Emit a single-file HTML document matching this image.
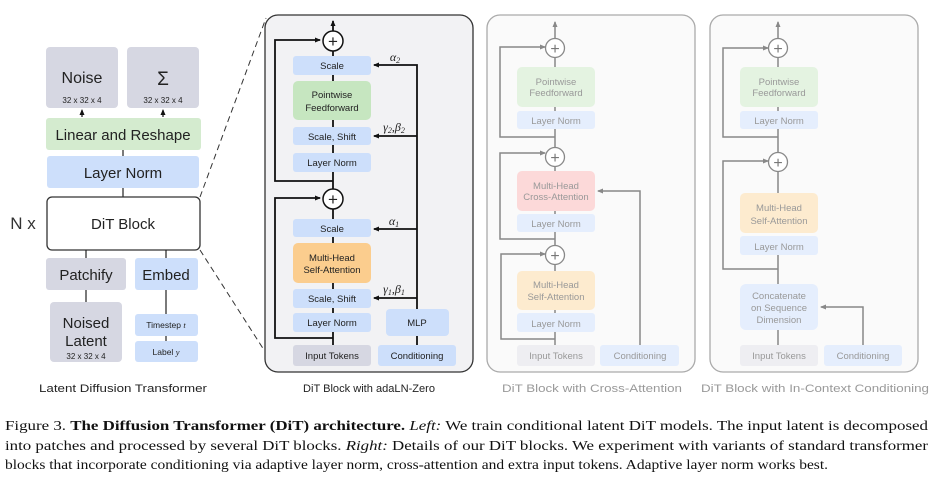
<!DOCTYPE html>
<html><head><meta charset="utf-8"><style>
html,body{margin:0;padding:0;background:#fff;}
svg{display:block;}
text{font-family:"Liberation Sans",sans-serif;}
.s, .s text, text.s, tspan.s{font-family:"Liberation Serif",serif;}
</style></head><body>
<svg width="943" height="485" viewBox="0 0 943 485" xmlns="http://www.w3.org/2000/svg">
<defs>
<marker id="ab" markerWidth="6" markerHeight="6" refX="5" refY="3" orient="auto" markerUnits="userSpaceOnUse"><path d="M0,0.5 L6,3 L0,5.5 z" fill="#111"/></marker>
<marker id="ag" markerWidth="6" markerHeight="6" refX="5" refY="3" orient="auto" markerUnits="userSpaceOnUse"><path d="M0,0.5 L6,3 L0,5.5 z" fill="#888"/></marker>
</defs>
<rect width="943" height="485" fill="#fff"/>

<!-- LEFT -->
<g text-anchor="middle">
<rect x="46" y="47" width="72" height="61" rx="4" fill="#d6d7e2"/>
<text x="82" y="83" font-size="16" fill="#222">Noise</text>
<text x="82" y="103" font-size="8" fill="#222">32 x 32 x 4</text>
<rect x="127" y="47" width="72" height="61" rx="4" fill="#d6d7e2"/>
<text x="163" y="85" font-size="19" fill="#222">Σ</text>
<text x="163" y="103" font-size="8" fill="#222">32 x 32 x 4</text>
<line x1="82" y1="117" x2="82" y2="110" stroke="#111" stroke-width="1.2" marker-end="url(#ab)"/>
<line x1="163" y1="117" x2="163" y2="110" stroke="#111" stroke-width="1.2" marker-end="url(#ab)"/>
<rect x="46" y="118" width="155" height="32" rx="3" fill="#d4ebcf"/>
<text x="123" y="140" font-size="15" fill="#222">Linear and Reshape</text>
<line x1="123" y1="150" x2="123" y2="156" stroke="#222" stroke-width="1.2"/>
<rect x="47" y="156" width="152" height="32" rx="3" fill="#cddffb"/>
<text x="123" y="178" font-size="15" fill="#222">Layer Norm</text>
<line x1="123" y1="188" x2="123" y2="197" stroke="#222" stroke-width="1.2"/>
<rect x="47" y="197" width="153" height="53" rx="5" fill="#fff" stroke="#333" stroke-width="1.3"/>
<text x="123" y="229" font-size="15" fill="#222">DiT Block</text>
<text x="23" y="229" font-size="17" fill="#333">N x</text>
<line x1="86" y1="250" x2="86" y2="258" stroke="#222" stroke-width="1.2"/>
<line x1="166" y1="250" x2="166" y2="258" stroke="#222" stroke-width="1.2"/>
<rect x="46" y="258" width="80" height="32" rx="3" fill="#d6d7e2"/>
<text x="86" y="280" font-size="15" fill="#222">Patchify</text>
<rect x="135" y="258" width="63" height="32" rx="3" fill="#cddffb"/>
<text x="166" y="280" font-size="15" fill="#222">Embed</text>
<line x1="86" y1="290" x2="86" y2="302" stroke="#222" stroke-width="1.2"/>
<line x1="166" y1="290" x2="166" y2="341" stroke="#222" stroke-width="1.2"/>
<rect x="50" y="302" width="72" height="60" rx="4" fill="#d6d7e2"/>
<text x="86" y="328" font-size="15" fill="#222">Noised</text>
<text x="86" y="346" font-size="15" fill="#222">Latent</text>
<text x="86" y="359" font-size="8" fill="#222">32 x 32 x 4</text>
<rect x="135" y="314" width="63" height="22" rx="3" fill="#cddffb"/>
<text x="166" y="328" font-size="8.5" fill="#222">Timestep <tspan class="s" font-style="italic">t</tspan></text>
<rect x="135" y="341" width="63" height="21" rx="3" fill="#cddffb"/>
<text x="166" y="355" font-size="8.5" fill="#222">Label <tspan class="s" font-style="italic">y</tspan></text>
<text x="123" y="392" font-size="11" fill="#222" textLength="168" lengthAdjust="spacingAndGlyphs">Latent Diffusion Transformer</text>
</g>
<line x1="200" y1="197" x2="266" y2="18" stroke="#333" stroke-width="1" stroke-dasharray="6,4"/>
<line x1="200" y1="250" x2="264" y2="350" stroke="#333" stroke-width="1" stroke-dasharray="6,4"/>

<!-- adaLN -->
<rect x="265" y="15" width="208" height="357" rx="13" fill="#f2f2f4" stroke="#333" stroke-width="1.3"/>
<g stroke="#111" stroke-width="1.8" fill="none">
<line x1="333" y1="31" x2="333" y2="21" marker-end="url(#ab)"/>
<path d="M333,181 L275,181 L275,40 L320,40" marker-end="url(#ab)"/>
<line x1="333" y1="51" x2="333" y2="56"/>
<line x1="333" y1="75" x2="333" y2="81"/>
<line x1="333" y1="120" x2="333" y2="127"/>
<line x1="333" y1="145" x2="333" y2="153"/>
<line x1="333" y1="172" x2="333" y2="189"/>
<path d="M333,338 L275,338 L275,198 L320,198" marker-end="url(#ab)"/>
<line x1="333" y1="209" x2="333" y2="219"/>
<line x1="333" y1="237" x2="333" y2="243"/>
<line x1="333" y1="283" x2="333" y2="289"/>
<line x1="333" y1="308" x2="333" y2="313"/>
<line x1="333" y1="332" x2="333" y2="345"/>
<line x1="417" y1="345" x2="417" y2="336"/>
<path d="M417,309 L417,65 L374,65" marker-end="url(#ab)"/>
<line x1="417" y1="136" x2="374" y2="136" marker-end="url(#ab)"/>
<line x1="417" y1="229" x2="374" y2="229" marker-end="url(#ab)"/>
<line x1="417" y1="298" x2="374" y2="298" marker-end="url(#ab)"/>
</g>
<g text-anchor="middle" font-size="9.5" fill="#222">
<circle cx="333" cy="41" r="10" fill="#fff" stroke="#111" stroke-width="1.5"/>
<text x="333" y="47" font-size="17">+</text>
<circle cx="333" cy="199" r="10" fill="#fff" stroke="#111" stroke-width="1.5"/>
<text x="333" y="205" font-size="17">+</text>
<rect x="293" y="56" width="78" height="19" rx="3" fill="#cddffb"/><text x="332" y="69">Scale</text>
<rect x="293" y="81" width="78" height="39" rx="5" fill="#c6e6c0"/><text x="332" y="98">Pointwise</text><text x="332" y="111">Feedforward</text>
<rect x="293" y="127" width="78" height="18" rx="3" fill="#cddffb"/><text x="332" y="140">Scale, Shift</text>
<rect x="293" y="153" width="78" height="19" rx="3" fill="#cddffb"/><text x="332" y="166">Layer Norm</text>
<rect x="293" y="219" width="78" height="18" rx="3" fill="#cddffb"/><text x="332" y="232">Scale</text>
<rect x="293" y="243" width="78" height="40" rx="5" fill="#fbcd8e"/><text x="332" y="261">Multi-Head</text><text x="332" y="273">Self-Attention</text>
<rect x="293" y="289" width="78" height="19" rx="3" fill="#cddffb"/><text x="332" y="302">Scale, Shift</text>
<rect x="293" y="313" width="78" height="19" rx="3" fill="#cddffb"/><text x="332" y="326">Layer Norm</text>
<rect x="386" y="309" width="63" height="27" rx="4" fill="#cddffb"/><text x="417" y="326">MLP</text>
<rect x="293" y="345" width="78" height="21" rx="3" fill="#d6d7e2"/><text x="332" y="359">Input Tokens</text>
<rect x="378" y="345" width="78" height="21" rx="3" fill="#cddffb"/><text x="417" y="359">Conditioning</text>
<text class="s" font-style="italic" font-size="12" x="395" y="61">α<tspan font-size="8" dy="2">2</tspan></text>
<text class="s" font-style="italic" font-size="12" x="394" y="131">γ<tspan font-size="8" dy="2">2</tspan><tspan dy="-2">,β</tspan><tspan font-size="8" dy="2">2</tspan></text>
<text class="s" font-style="italic" font-size="12" x="394" y="225">α<tspan font-size="8" dy="2">1</tspan></text>
<text class="s" font-style="italic" font-size="12" x="394" y="293">γ<tspan font-size="8" dy="2">1</tspan><tspan dy="-2">,β</tspan><tspan font-size="8" dy="2">1</tspan></text>
<text x="369" y="392" font-size="11" textLength="132" lengthAdjust="spacingAndGlyphs">DiT Block with adaLN-Zero</text>
</g>

<!-- Cross-attention -->
<rect x="487" y="15" width="208" height="357" rx="13" fill="#fafafa" stroke="#aaa" stroke-width="1.3"/>
<g stroke="#888" stroke-width="1.5" fill="none">
<line x1="555" y1="38" x2="555" y2="22" marker-end="url(#ag)"/>
<path d="M555,137 L500,137 L500,47 L545,47" marker-end="url(#ag)"/>
<path d="M555,239 L500,239 L500,153 L545,153" marker-end="url(#ag)"/>
<path d="M555,339 L501,339 L501,254 L545,254" marker-end="url(#ag)"/>
<line x1="555" y1="58" x2="555" y2="67"/>
<line x1="555" y1="107" x2="555" y2="147"/>
<line x1="555" y1="167" x2="555" y2="171"/>
<line x1="555" y1="211" x2="555" y2="245"/>
<line x1="555" y1="265" x2="555" y2="271"/>
<line x1="555" y1="310" x2="555" y2="345"/>
<path d="M640,345 L640,191 L598,191" marker-end="url(#ag)"/>
</g>
<g text-anchor="middle" font-size="9.5" fill="#999">
<circle cx="555" cy="48" r="9.5" fill="#fff" stroke="#888" stroke-width="1.3"/><text x="555" y="54" font-size="16" fill="#777">+</text>
<circle cx="555" cy="157" r="9.5" fill="#fff" stroke="#888" stroke-width="1.3"/><text x="555" y="163" font-size="16" fill="#777">+</text>
<circle cx="555" cy="255" r="9.5" fill="#fff" stroke="#888" stroke-width="1.3"/><text x="555" y="261" font-size="16" fill="#777">+</text>
<rect x="517" y="67" width="78" height="40" rx="5" fill="#e4f3e1"/><text x="556" y="85">Pointwise</text><text x="556" y="96">Feedforward</text>
<rect x="517" y="111" width="78" height="18" rx="3" fill="#e5eefd"/><text x="556" y="124">Layer Norm</text>
<rect x="517" y="171" width="78" height="40" rx="5" fill="#fcd9d9"/><text x="556" y="189">Multi-Head</text><text x="556" y="200">Cross-Attention</text>
<rect x="517" y="214" width="78" height="18" rx="3" fill="#e5eefd"/><text x="556" y="227">Layer Norm</text>
<rect x="517" y="271" width="78" height="39" rx="5" fill="#fdebcf"/><text x="556" y="288">Multi-Head</text><text x="556" y="300">Self-Attention</text>
<rect x="517" y="313" width="78" height="19" rx="3" fill="#e5eefd"/><text x="556" y="327">Layer Norm</text>
<rect x="517" y="345" width="78" height="21" rx="3" fill="#eeeef2"/><text x="556" y="359">Input Tokens</text>
<rect x="600" y="345" width="79" height="21" rx="3" fill="#e5eefd"/><text x="640" y="359">Conditioning</text>
<text x="592" y="392" font-size="11" textLength="180" lengthAdjust="spacingAndGlyphs">DiT Block with Cross-Attention</text>
</g>

<!-- In-context -->
<rect x="710" y="15" width="208" height="357" rx="13" fill="#fafafa" stroke="#aaa" stroke-width="1.3"/>
<g stroke="#888" stroke-width="1.5" fill="none">
<line x1="778" y1="38" x2="778" y2="22" marker-end="url(#ag)"/>
<path d="M778,137 L723,137 L723,48 L768,48" marker-end="url(#ag)"/>
<path d="M778,269 L723,269 L723,161 L768,161" marker-end="url(#ag)"/>
<line x1="778" y1="58" x2="778" y2="67"/>
<line x1="778" y1="107" x2="778" y2="152"/>
<line x1="778" y1="172" x2="778" y2="193"/>
<line x1="778" y1="255" x2="778" y2="284"/>
<line x1="778" y1="330" x2="778" y2="345"/>
<path d="M863,345 L863,307 L821,307" marker-end="url(#ag)"/>
</g>
<g text-anchor="middle" font-size="9.5" fill="#999">
<circle cx="778" cy="48" r="9.5" fill="#fff" stroke="#888" stroke-width="1.3"/><text x="778" y="54" font-size="16" fill="#777">+</text>
<circle cx="778" cy="162" r="9.5" fill="#fff" stroke="#888" stroke-width="1.3"/><text x="778" y="168" font-size="16" fill="#777">+</text>
<rect x="740" y="67" width="78" height="40" rx="5" fill="#e4f3e1"/><text x="779" y="85">Pointwise</text><text x="779" y="96">Feedforward</text>
<rect x="740" y="111" width="78" height="18" rx="3" fill="#e5eefd"/><text x="779" y="124">Layer Norm</text>
<rect x="740" y="193" width="78" height="40" rx="5" fill="#fdebcf"/><text x="779" y="211">Multi-Head</text><text x="779" y="224">Self-Attention</text>
<rect x="740" y="236" width="78" height="19" rx="3" fill="#e5eefd"/><text x="779" y="250">Layer Norm</text>
<rect x="740" y="284" width="78" height="46" rx="6" fill="#e5eefd"/><text x="779" y="299">Concatenate</text><text x="779" y="311">on Sequence</text><text x="779" y="323">Dimension</text>
<rect x="740" y="345" width="78" height="21" rx="3" fill="#eeeef2"/><text x="779" y="359">Input Tokens</text>
<rect x="824" y="345" width="78" height="21" rx="3" fill="#e5eefd"/><text x="863" y="359">Conditioning</text>
<text x="815" y="392" font-size="11" textLength="228" lengthAdjust="spacingAndGlyphs">DiT Block with In-Context Conditioning</text>
</g>

<!-- Caption -->
<g font-size="14" fill="#111">
<text class="s" x="5" y="430" textLength="923" lengthAdjust="spacingAndGlyphs">Figure 3. <tspan font-weight="bold">The Diffusion Transformer (DiT) architecture.</tspan> <tspan font-style="italic">Left:</tspan> We train conditional latent DiT models. The input latent is decomposed</text>
<text class="s" x="5" y="450" textLength="923" lengthAdjust="spacingAndGlyphs">into patches and processed by several DiT blocks. <tspan font-style="italic">Right:</tspan> Details of our DiT blocks. We experiment with variants of standard transformer</text>
<text class="s" x="5" y="469" textLength="823" lengthAdjust="spacingAndGlyphs">blocks that incorporate conditioning via adaptive layer norm, cross-attention and extra input tokens. Adaptive layer norm works best.</text>
</g>
</svg>
</body></html>
